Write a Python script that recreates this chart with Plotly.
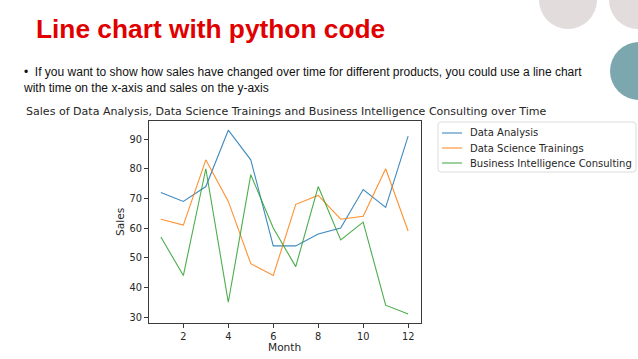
import plotly.graph_objects as go

W, H = 638, 359

months = list(range(1, 13))
series_names = ["Data Analysis", "Data Science Trainings", "Business Intelligence Consulting"]
data_analysis = [72, 69, 74, 93, 83, 54, 54, 58, 60, 73, 67, 91]
data_science = [63, 61, 83, 69, 48, 44, 68, 71, 63, 64, 80, 59]
business_intel = [57, 44, 80, 35, 78, 60, 47, 74, 56, 62, 34, 31]
series_values = [data_analysis, data_science, business_intel]
colors = ["#1f77b4", "#ff7f0e", "#2ca02c"]
x_ticks = [2, 4, 6, 8, 10, 12]
y_ticks = [30, 40, 50, 60, 70, 80, 90]

slide_title = "Line chart with python code"
bullet_lines = [
    "•  If you want to show how sales have changed over time for different products, you could use a line chart",
    "with time on the x-axis and sales on the y-axis",
]
chart_title = "Sales of Data Analysis, Data Science Trainings and Business Intelligence Consulting over Time"


def px(x):
    return x / W


def py(y):
    return 1 - y / H


fig = go.Figure()
for name, vals, c in zip(series_names, series_values, colors):
    fig.add_trace(go.Scatter(x=months, y=vals, mode="lines", name=name,
                             line=dict(color=c, width=1.1), opacity=0.85,
                             showlegend=False))

axis_common = dict(showline=True, linecolor="#3a3a3a", linewidth=1, mirror=True,
                   ticks="outside", ticklen=3.5, tickcolor="#3a3a3a", tickwidth=1,
                   showgrid=False, zeroline=False,
                   tickfont=dict(family="DejaVu Sans", size=9.8, color="#262626"))

fig.update_layout(
    width=W, height=H,
    margin=dict(l=0, r=0, t=0, b=0),
    paper_bgcolor="white", plot_bgcolor="white",
    xaxis=dict(domain=[px(148.5), px(420.5)], range=[0.45, 12.55],
               tickvals=x_ticks, **axis_common),
    yaxis=dict(domain=[py(323.3), py(121)], range=[27.9, 96.1],
               tickvals=y_ticks, **axis_common),
    showlegend=False,
)

shapes = []
# decorative circles
shapes.append(dict(type="circle", xref="paper", yref="paper",
                   x0=px(539), x1=px(597), y0=py(-29), y1=py(29),
                   fillcolor="#e3dcdd", line=dict(width=0), layer="below"))
shapes.append(dict(type="circle", xref="paper", yref="paper",
                   x0=px(609), x1=px(667), y0=py(-29), y1=py(29),
                   fillcolor="#e3dcdd", line=dict(width=0), layer="below"))
shapes.append(dict(type="circle", xref="paper", yref="paper",
                   x0=px(610), x1=px(668), y0=py(42), y1=py(100),
                   fillcolor="#7da7ae", line=dict(width=0), layer="below"))

# legend box
lx0, lx1, ly0, ly1 = 438, 636, 122, 172
r = 3
path = (f"M{px(lx0 + r)},{py(ly0)} L{px(lx1 - r)},{py(ly0)} "
        f"Q{px(lx1)},{py(ly0)} {px(lx1)},{py(ly0 + r)} "
        f"L{px(lx1)},{py(ly1 - r)} Q{px(lx1)},{py(ly1)} {px(lx1 - r)},{py(ly1)} "
        f"L{px(lx0 + r)},{py(ly1)} Q{px(lx0)},{py(ly1)} {px(lx0)},{py(ly1 - r)} "
        f"L{px(lx0)},{py(ly0 + r)} Q{px(lx0)},{py(ly0)} {px(lx0 + r)},{py(ly0)} Z")
shapes.append(dict(type="path", xref="paper", yref="paper", path=path,
                   fillcolor="white", line=dict(color="#dcdcdc", width=1)))

annotations = []
entry_y = [133, 148, 163]
for name, c, ey in zip(series_names, colors, entry_y):
    shapes.append(dict(type="line", xref="paper", yref="paper",
                       x0=px(442), x1=px(462), y0=py(ey), y1=py(ey),
                       line=dict(color=c, width=1.1), opacity=0.85))
    annotations.append(dict(text=name, xref="paper", yref="paper",
                            x=px(468), y=py(ey), xanchor="left", yanchor="middle",
                            showarrow=False,
                            font=dict(family="DejaVu Sans", size=10, color="#262626")))

annotations.append(dict(text=slide_title, xref="paper", yref="paper",
                        x=px(34), y=py(29), xanchor="left", yanchor="middle",
                        showarrow=False,
                        font=dict(family="Liberation Sans, Arial", size=26.3, color="#e00000",
                                  weight="bold")))
annotations.append(dict(text="<br>".join(bullet_lines), xref="paper", yref="paper",
                        x=px(21), y=py(79.5), xanchor="left", yanchor="middle", align="left",
                        showarrow=False,
                        font=dict(family="Liberation Sans, Arial", size=12, color="#111111")))
annotations.append(dict(text=chart_title, xref="paper", yref="paper",
                        x=px(24), y=py(112), xanchor="left", yanchor="middle",
                        showarrow=False,
                        font=dict(family="DejaVu Sans", size=11.05, color="#262626")))
annotations.append(dict(text="Sales", xref="paper", yref="paper",
                        x=px(120), y=py(222), xanchor="center", yanchor="middle",
                        textangle=-90, showarrow=False,
                        font=dict(family="DejaVu Sans", size=10.6, color="#262626")))
annotations.append(dict(text="Month", xref="paper", yref="paper",
                        x=px(284), y=py(347), xanchor="center", yanchor="middle",
                        showarrow=False,
                        font=dict(family="DejaVu Sans", size=10.6, color="#262626")))

fig.update_layout(shapes=shapes, annotations=annotations)
fig.write_html("out.html", config={"displayModeBar": False},
               post_script="document.body.style.margin='0';")
